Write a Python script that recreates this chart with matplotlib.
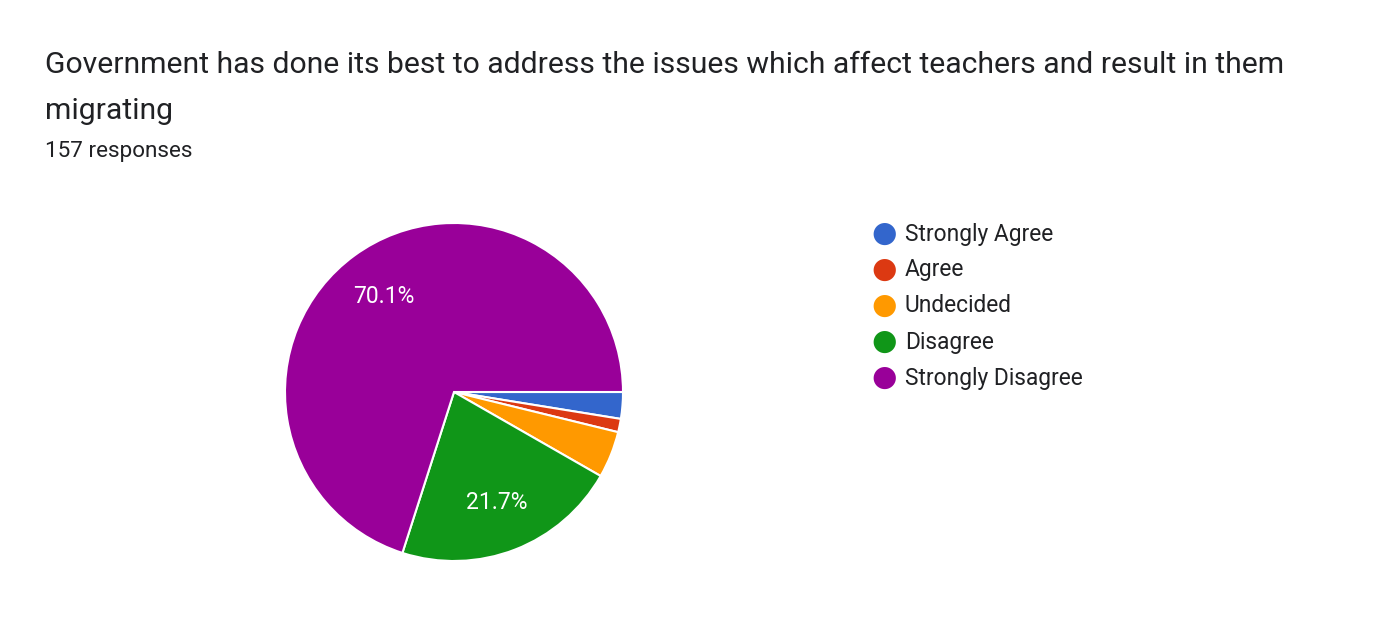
import matplotlib.pyplot as plt

labels = ["Strongly Agree", "Agree", "Undecided", "Disagree", "Strongly Disagree"]
counts = [4, 2, 7, 34, 110]
colors = ["#3366cc", "#dc3912", "#ff9900", "#109618", "#990099"]

plt.rcParams['font.family'] = ['Roboto', 'DejaVu Sans']
fig = plt.figure(figsize=(13.8, 6.26), dpi=100)
fig.text(45/1380, 1-65/626, "Government has done its best to address the issues which affect teachers and result in them",
         fontsize=21.7, color="#202124", va="center")
fig.text(45/1380, 1-111/626, "migrating", fontsize=21.7, color="#202124", va="center")
fig.text(45/1380, 1-152/626, "157 responses", fontsize=16.2, color="#202124", va="center")

r = 169
ax = fig.add_axes([(454-r)/1380, (626-392-r)/626, 2*r/1380, 2*r/626])
def fmt(p):
    return f"{p:.1f}%" if p > 10 else ""
wedges, texts, autotexts = ax.pie(counts, colors=colors, startangle=0, counterclock=False,
       autopct=fmt, pctdistance=0.7, radius=1,
       wedgeprops=dict(edgecolor="white", linewidth=1.5),
       textprops=dict(color="white", fontsize=16.5))
ax.set_xlim(-1, 1)
ax.set_ylim(-1, 1)
ax.set_aspect('equal')

for i, (lab, c) in enumerate(zip(labels, colors)):
    y = 1 - (234 + 36*i)/626
    fig.text(884/1380, y, "●", color=c, fontsize=21, ha="center", va="center")
    fig.text(905/1380, y, lab, fontsize=16.4, color="#202124", va="center")

fig.savefig("out.png", dpi=100)
